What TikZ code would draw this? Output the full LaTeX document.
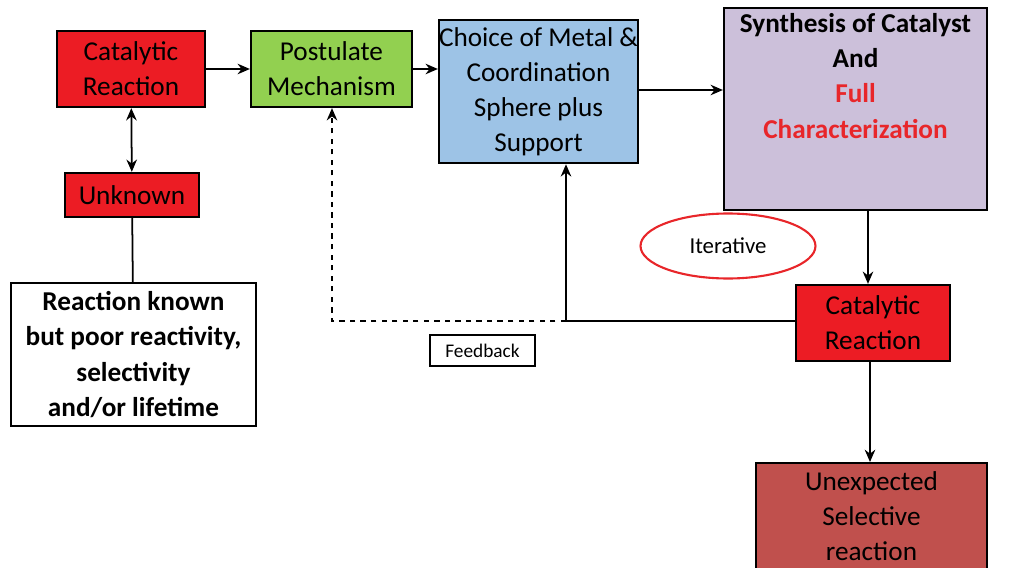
\documentclass[tikz,border=0pt]{standalone}
\usepackage{fontspec}
\setmainfont{Carlito}
\usetikzlibrary{shapes.geometric,arrows.meta}
\definecolor{cred}{HTML}{EC1C24}
\definecolor{cgreen}{HTML}{92D050}
\definecolor{cblue}{HTML}{9DC3E6}
\definecolor{cpurple}{HTML}{CCC0DA}
\definecolor{cdred}{HTML}{C0504D}
\definecolor{ctext}{HTML}{E8262A}
\begin{document}
\begin{tikzpicture}[x=0.02cm,y=-0.02cm,
  box/.style={draw=black,line width=1.3pt,align=center,inner sep=0pt,
    font=\fontsize{15.5}{20}\selectfont},
  arr/.style={-{Stealth[length=7pt,width=6pt]},line width=1pt},
  ln/.style={line width=1pt}]
\useasboundingbox (0,0) rectangle (1009,568);
% sizes in cm = px * 0.02
\node[box,fill=cred,minimum width=2.96cm,minimum height=1.52cm] (cat1) at (131,69) {Catalytic\\Reaction};
\node[box,fill=cred,minimum width=2.68cm,minimum height=0.88cm] (unk) at (132,195) {Unknown};
\node[box,fill=white,minimum width=4.9cm,minimum height=2.86cm,font=\fontsize{15.5}{20}\selectfont\bfseries] (known) at (133.5,354.5) {Reaction known\\but poor reactivity,\\selectivity\\and/or lifetime};
\node[box,fill=cgreen,minimum width=3.22cm,minimum height=1.52cm] (post) at (331.5,69) {Postulate\\Mechanism};
\node[box,fill=cblue,minimum width=3.5cm,minimum height=2.86cm,anchor=north] (choice) at (538.5,19) {Choice of Metal \&\\Coordination\\Sphere plus\\Support};
\node[box,fill=cpurple,minimum width=5.26cm,minimum height=4.04cm,anchor=north,font=\fontsize{15.5}{20}\selectfont\bfseries] (syn) at (855.5,7) {Synthesis of Catalyst\\And\\\textcolor{ctext}{Full}\\\textcolor{ctext}{Characterization}\\[18pt]};
\node[draw=ctext,line width=1.2pt,ellipse,minimum width=3.5cm,minimum height=1.3cm,font=\fontsize{13}{16}\selectfont] (iter) at (728,246) {Iterative};
\node[box,fill=cred,minimum width=3.08cm,minimum height=1.52cm] (cat2) at (873,323) {Catalytic\\Reaction};
\node[box,fill=cdred,minimum width=4.62cm,minimum height=2.12cm,anchor=north] (unex) at (871.5,462) {Unexpected\\Selective\\reaction};
\node[draw=black,line width=0.6pt,minimum width=2.1cm,minimum height=0.62cm,inner sep=0pt,font=\fontsize{11}{13}\selectfont] (fb) at (482.5,350.5) {Feedback};
% connectors
\draw[arr] (cat1) -- (post);
\draw[arr] (post) -- (choice.west |- post);
\draw[arr] (choice.east |- 0,90) -- (syn.west |- 0,90);
\draw[arr,{Stealth[length=7pt,width=6pt]}-{Stealth[length=7pt,width=6pt]}] (cat1) -- (unk);
\draw[ln] (unk) -- (known);
\draw[arr] (syn.south -| 868,0) -- (cat2.north -| 868,0);
\draw[arr] (cat2.south -| 870,0) -- (unex.north -| 870,0);
\coordinate (j) at (566,321);
\draw[ln] (cat2.west |- j) -- (j);
\draw[arr] (j) -- (choice.south -| j);
\draw[arr,dashed] (j) -- (332,321) -- (post.south -| 332,0);
\end{tikzpicture}
\end{document}
